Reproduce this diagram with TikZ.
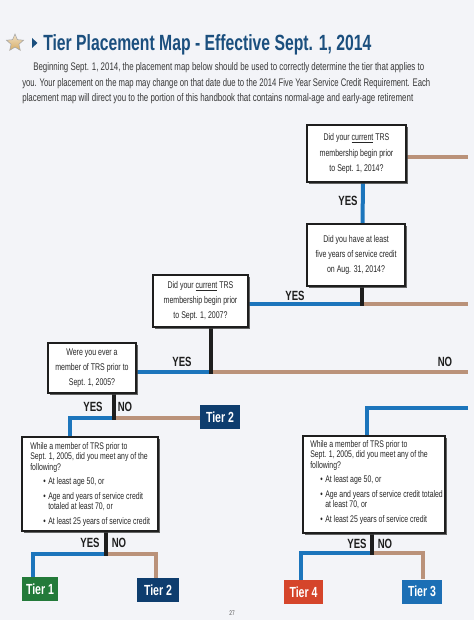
\documentclass[tikz,border=0pt]{standalone}
\usepackage{fontspec}
\setmainfont{Liberation Sans}[FakeStretch=0.72]
\usetikzlibrary{shadows,calc,shapes.geometric}
\definecolor{bgc}{RGB}{243,244,248}
\definecolor{ttl}{RGB}{27,79,126}
\definecolor{lblue}{RGB}{28,117,188}
\definecolor{ltan}{RGB}{186,146,122}
\definecolor{ldark}{RGB}{30,30,30}
\definecolor{tnavy}{RGB}{14,61,110}
\definecolor{tgreen}{RGB}{35,122,58}
\definecolor{tred}{RGB}{213,69,43}
\definecolor{tblue}{RGB}{28,111,181}
\definecolor{gold}{RGB}{214,172,100}
\pgfdeclarelayer{back}
\pgfdeclarelayer{lines}
\pgfsetlayers{back,lines,main}
\newcommand\fitw[2]{\resizebox{#1}{\height}{#2}}
\newcommand\bul{\hspace*{9.75pt}\makebox[3.75pt][l]{\textbullet}}
\newcommand\cont{\hspace*{13.5pt}}
\newcommand\bulb{\hspace*{7.5pt}\makebox[3.75pt][l]{\textbullet}}
\newcommand\contb{\hspace*{11.25pt}}
\tikzset{
 qbox/.style={draw=ldark, line width=1.5pt, fill=white, inner sep=0pt, align=center,
   font=\fontsize{7.3}{11.5}\selectfont, text=black!85,
   drop shadow={shadow xshift=1.5pt, shadow yshift=-1.5pt, fill=black!75, opacity=.8}},
 tierbox/.style={fill=#1, text=white, inner sep=0pt, minimum height={24*0.75pt},
   font=\bfseries\fontsize{11}{11}\selectfont},
 yn/.style={inner sep=0pt, font=\bfseries\fontsize{10}{10}\selectfont, text=ldark},
 blueline/.style={draw=lblue, line width=3pt},
 tanline/.style={draw=ltan, line width=3pt},
 darkline/.style={draw=ldark, line width=3pt},
 para/.style={inner sep=0pt, anchor=base west, text=black!78, font=\fontsize{8.25}{10}\selectfont},
 ltext/.style={inner sep=0pt, anchor=north west, align=left, text=black!85,
   font=\fontsize{7.2}{8}\selectfont},
}
\begin{document}
\begin{tikzpicture}[x=0.75pt,y=-0.75pt]
\useasboundingbox (0,0) rectangle (474,620);
\begin{pgfonlayer}{back}
\fill[bgc] (0,0) rectangle (474,620);
\end{pgfonlayer}

% header
\node[star, star points=5, star point ratio=2.2, minimum size={18*0.75pt}, inner sep=0pt,
  top color=gold!35!white, bottom color=gold, draw=black!35, line width=0.4pt] (star) at (15,43) {};
\fill[ttl] (32,38) -- (37.5,43) -- (32,48) -- cycle;
\node[anchor=base west, inner sep=0pt, text=ttl, font=\bfseries\fontsize{16.5}{16.5}\selectfont]
  (title) at (43,51) {\fitw{246pt}{Tier Placement Map - Effective Sept. 1, 2014}};
\node[para] (p1) at (33,71) {\fitw{293.25pt}{Beginning Sept. 1, 2014, the placement map below should be used to correctly determine the tier that applies to}};
\node[para] (p2) at (22,87) {\fitw{306pt}{you. Your placement on the map may change on that date due to the 2014 Five Year Service Credit Requirement. Each}};
\node[para] (p3) at (22,102) {\fitw{293.25pt}{placement map will direct you to the portion of this handbook that contains normal-age and early-age retirement}};

% question boxes
\node[qbox, minimum width={99*0.75pt}, minimum height={57*0.75pt}] (b1) at (356.5,153.5)
  {Did your \underline{current} TRS\\membership begin prior\\to Sept. 1, 2014?};
\node[qbox, minimum width={98*0.75pt}, minimum height={62*0.75pt}] (b2) at (356,255)
  {Did you have at least\\five years of service credit\\on Aug. 31, 2014?};
\node[qbox, minimum width={95*0.75pt}, minimum height={52*0.75pt}] (b3) at (200.5,301)
  {Did your \underline{current} TRS\\membership begin prior\\to Sept. 1, 2007?};
\node[qbox, minimum width={88*0.75pt}, minimum height={50*0.75pt}] (b4) at (92,368)
  {Were you ever a\\member of TRS prior to\\Sept. 1, 2005?};
\node[qbox, minimum width={136*0.75pt}, minimum height={94*0.75pt}] (b5) at (90,484) {};
\node[qbox, minimum width={142*0.75pt}, minimum height={97*0.75pt}] (b6) at (374,484.5) {};
\node[ltext] (b5t) at (30,442) {While a member of TRS prior to\\
Sept. 1, 2005, did you meet any of the\\
following?\\[2.5pt]
\bul At least age 50, or\\[3pt]
\bul Age and years of service credit\\
\cont totaled at least 70, or\\[3pt]
\bul At least 25 years of service credit};
\node[ltext] (b6t) at (310,440) {While a member of TRS prior to\\
Sept. 1, 2005, did you meet any of the\\
following?\\[2.5pt]
\bulb At least age 50, or\\[3pt]
\bulb Age and years of service credit totaled\\
\contb at least 70, or\\[3pt]
\bulb At least 25 years of service credit};

% tiers
\node[tierbox=tnavy, minimum width={40*0.75pt}] (t2a) at (220,417) {Tier 2};
\node[tierbox=tgreen, minimum width={36*0.75pt}] (t1) at (40,589) {Tier 1};
\node[tierbox=tnavy, minimum width={42*0.75pt}] (t2b) at (158,590) {Tier 2};
\node[tierbox=tred, minimum width={39*0.75pt}] (t4) at (303.5,592) {Tier 4};
\node[tierbox=tblue, minimum width={40*0.75pt}] (t3) at (422,591.5) {Tier 3};

% labels
\node[yn] (y1) at (348,201) {YES};
\node[yn] (y2) at (295,296) {YES};
\node[yn] (y3) at (182,362) {YES};
\node[yn] (n3) at (445,362) {NO};
\node[yn] (y4) at (93,407) {YES};
\node[yn] (n4) at (125,407) {NO};
\node[yn] (y5) at (90,543) {YES};
\node[yn] (n5) at (119,543) {NO};
\node[yn] (y6) at (357,544) {YES};
\node[yn] (n6) at (385,544) {NO};
\node[inner sep=0pt, font=\fontsize{5}{5}\selectfont, text=black!70] (pg) at (232,613) {27};

% junctions and free ends
\coordinate (r1) at (468,157);
\coordinate (r2) at (468,304);
\coordinate (r3) at (468,372);
\coordinate (r6) at (468,408);
\coordinate (j2) at (362,304);
\coordinate (j3) at (211,372);
\coordinate (j4) at (114,418);
\coordinate (j5) at (106,554);
\coordinate (j6) at (372,553);

\begin{pgfonlayer}{lines}
\draw[tanline] (b1.east |- r1) -- (r1);
\draw[blueline] ($(b1.south)+(6.5,0)$) -- ($(b2.north)+(6.5,0)$);
\draw[blueline] (b3.east |- j2) -- (j2);
\draw[tanline] (j2) -- (r2);
\draw[darkline] (b2.south -| j2) -- ($(j2)+(0,2)$);
\draw[blueline] (b4.east |- j3) -- (j3);
\draw[tanline] (j3) -- (r3);
\draw[darkline] (b3.south -| j3) -- ($(j3)+(0,2)$);
\draw[blueline] (j4) -| ($(b5.north)+(-20,0)$);
\draw[tanline] (j4) -- (t2a.west |- j4);
\draw[darkline] (b4.south -| j4) -- ($(j4)+(0,2)$);
\draw[blueline] (j5) -| ($(t1.north)+(-7,0)$);
\draw[tanline] (j5) -| ($(t2b.north)+(-2,0)$);
\draw[darkline] (b5.south -| j5) -- ($(j5)+(0,2)$);
\draw[blueline] (r6) -| ($(b6.north)+(-7,0)$);
\draw[blueline] (j6) -| ($(t4.north)+(-2.5,0)$);
\draw[tanline] (j6) -| ($(t3.north)+(1,0)$);
\draw[darkline] (b6.south -| j6) -- ($(j6)+(0,2)$);
\end{pgfonlayer}
\end{tikzpicture}
\end{document}
